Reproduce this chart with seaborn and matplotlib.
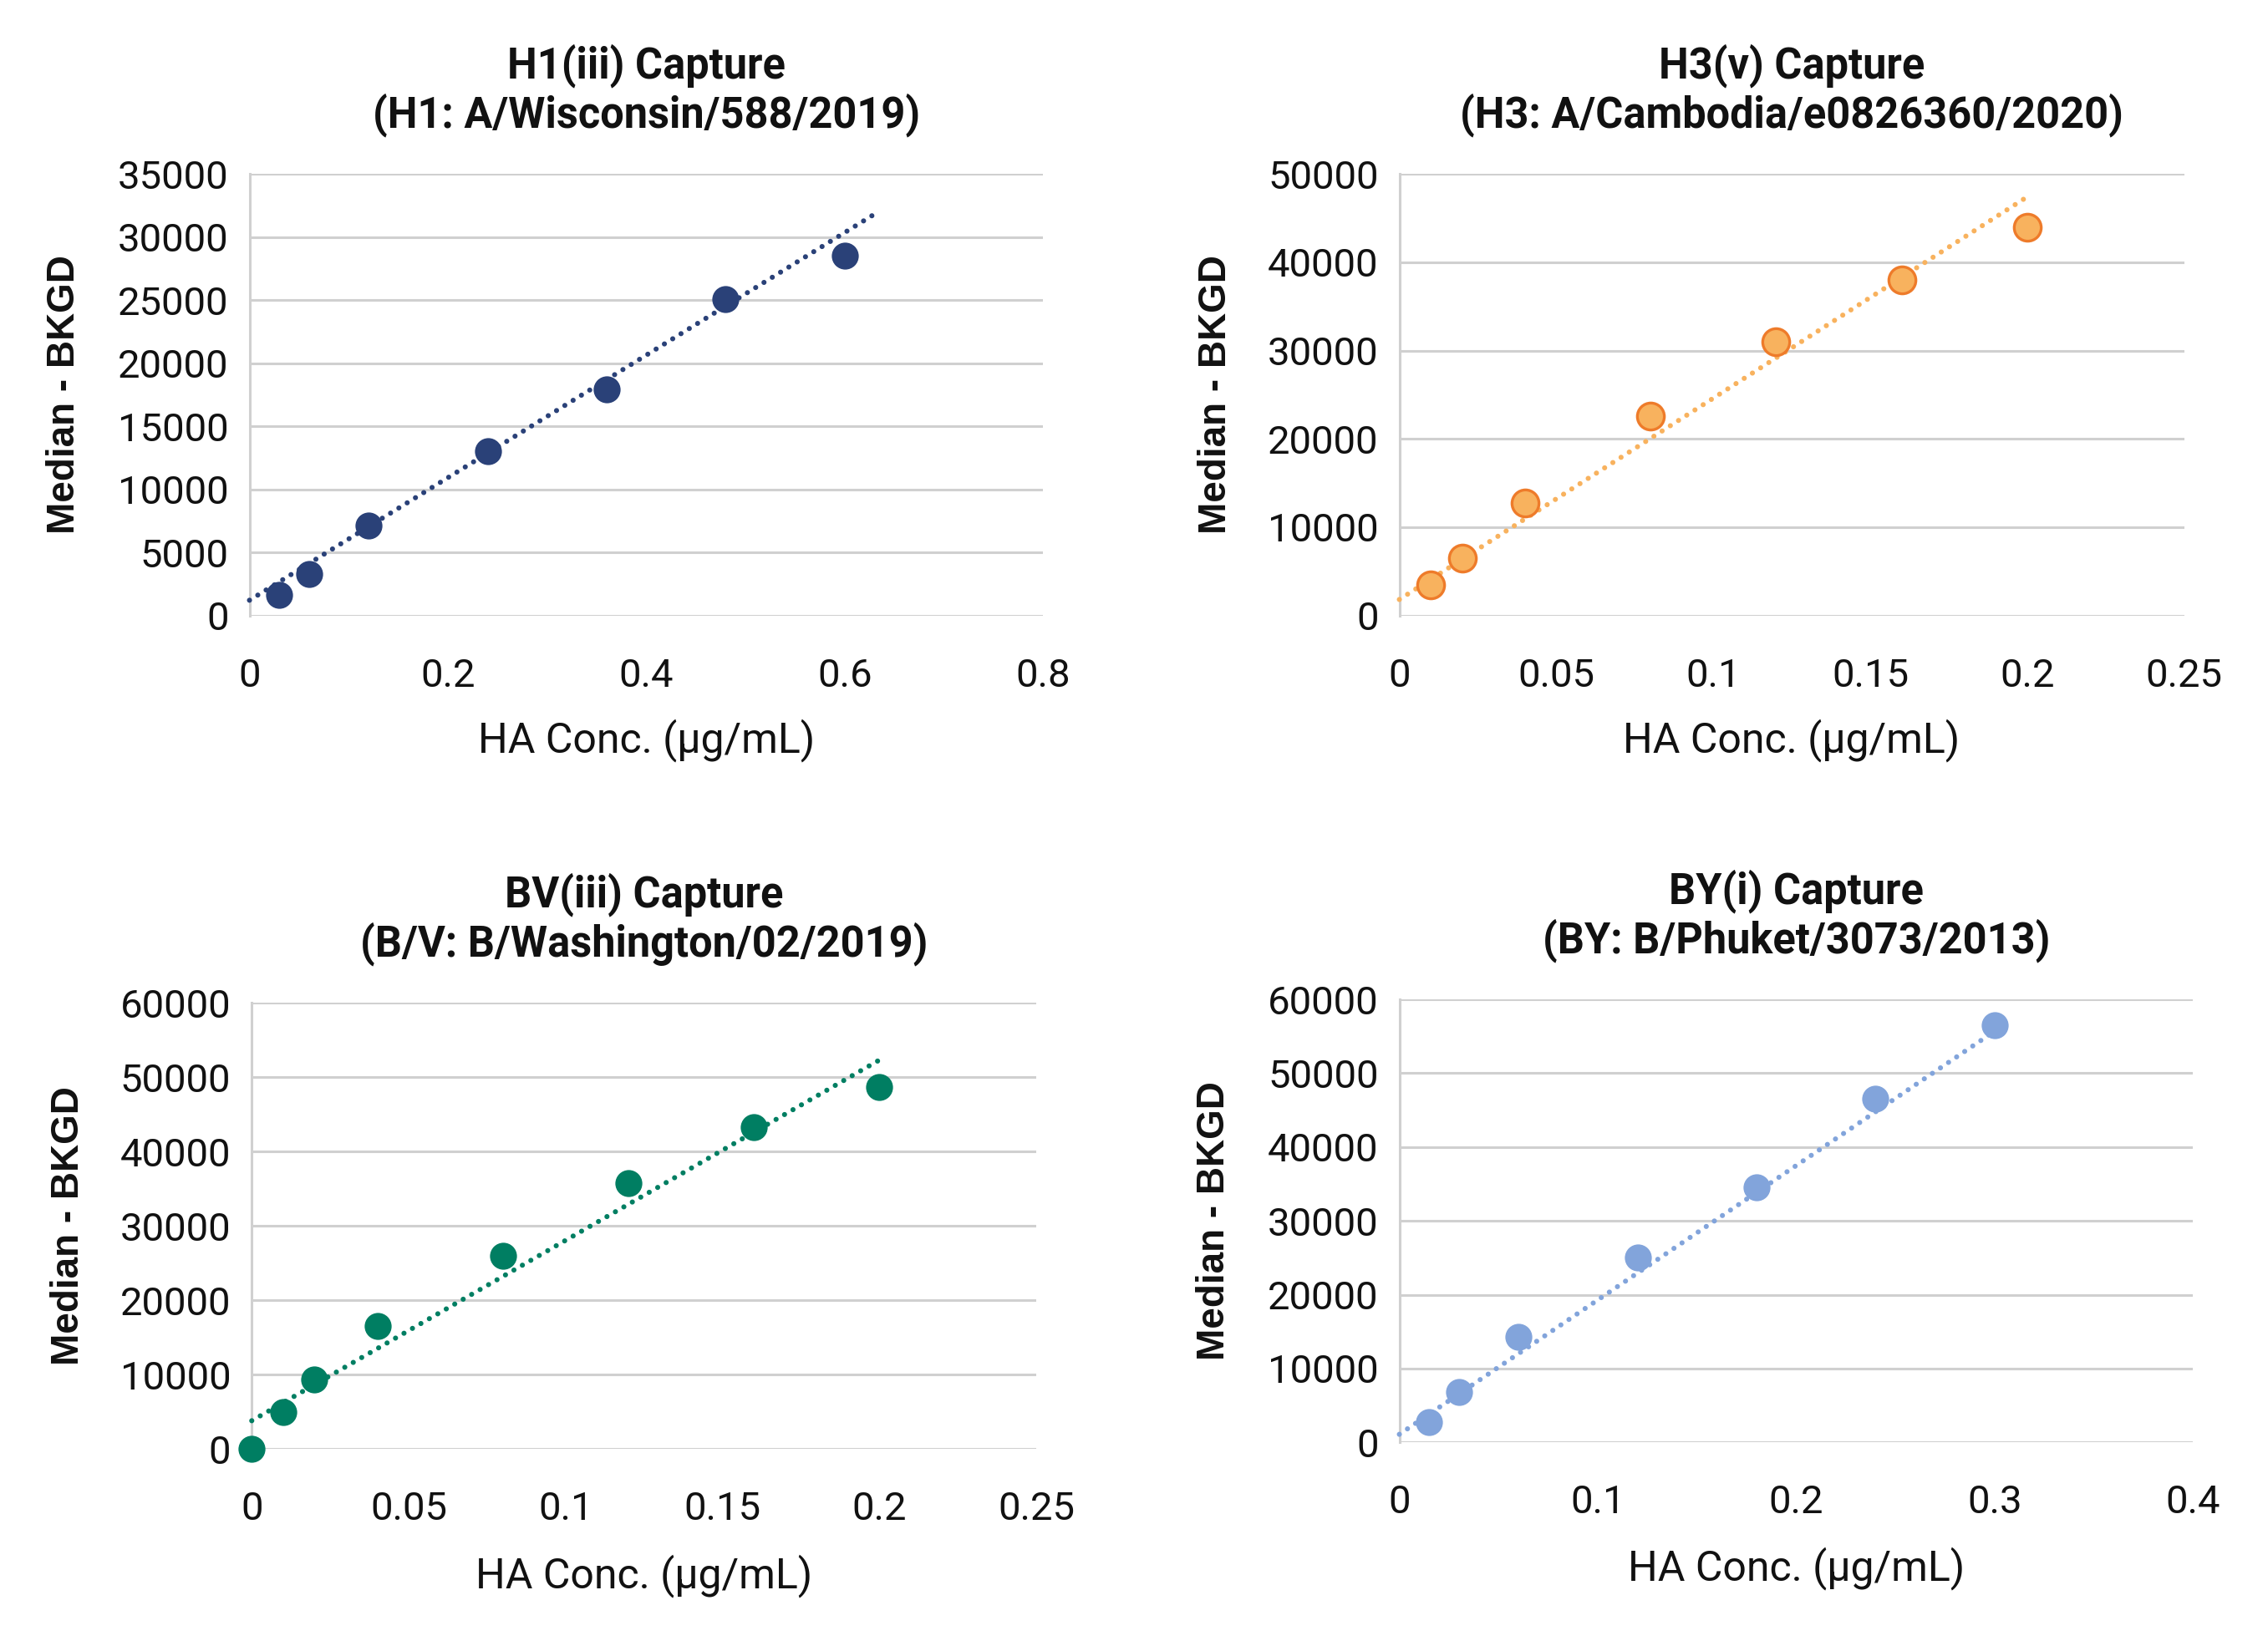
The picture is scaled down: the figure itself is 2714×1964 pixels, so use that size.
import numpy as np
import pandas as pd
import matplotlib
matplotlib.use("Agg")
import matplotlib.pyplot as plt
from matplotlib.ticker import FuncFormatter
import seaborn as sns

# ---- data ----
h1_conc = [0.03, 0.06, 0.12, 0.24, 0.36, 0.48, 0.60]
h1_signal = [1600, 3300, 7100, 13000, 17900, 25100, 28500]

h3_conc = [0.01, 0.02, 0.04, 0.08, 0.12, 0.16, 0.20]
h3_signal = [3500, 6500, 12700, 22600, 31000, 38000, 44000]

bv_conc = [0.0, 0.01, 0.02, 0.04, 0.08, 0.12, 0.16, 0.20]
bv_signal = [0, 5000, 9300, 16500, 26000, 35700, 43300, 48700]

by_conc = [0.015, 0.03, 0.06, 0.12, 0.18, 0.24, 0.30]
by_signal = [2800, 6800, 14300, 25100, 34600, 46500, 56500]

# linear trendlines as drawn in the reference (slope, intercept, end x)
trend_slope = [48600, 228000, 242500, 182000]
trend_intercept = [1200, 1800, 3800, 1100]
trend_end = [0.63, 0.2, 0.2, 0.3]

titles = [
    "H1(iii) Capture\n(H1: A/Wisconsin/588/2019)",
    "H3(v) Capture\n(H3: A/Cambodia/e0826360/2020)",
    "BV(iii) Capture\n(B/V: B/Washington/02/2019)",
    "BY(i) Capture\n(BY: B/Phuket/3073/2013)",
]
x_max = [0.8, 0.25, 0.25, 0.4]
x_step = [0.2, 0.05, 0.05, 0.1]
y_max = [35000, 50000, 60000, 60000]
y_step = [5000, 10000, 10000, 10000]

sns.set_theme(style="white")
plt.rcParams["font.family"] = ["Roboto", "DejaVu Sans"]

panels = [
    (h1_conc, h1_signal, "#2A4178", "#2A4178"),
    (h3_conc, h3_signal, "#F8B25E", "#EE7B2A"),
    (bv_conc, bv_signal, "#007E62", "#007E62"),
    (by_conc, by_signal, "#82A4DB", "#82A4DB"),
]

# axes boxes [left, bottom, width, height] in figure fraction
boxes = [
    [0.110, 0.625, 0.350, 0.269],
    [0.617, 0.625, 0.346, 0.269],
    [0.111, 0.117, 0.346, 0.272],
    [0.617, 0.121, 0.350, 0.270],
]

fig = plt.figure(figsize=(13.57, 9.82), dpi=200)

fmt = FuncFormatter(lambda v, p: f"{v:g}")

for i, (xs, ys, fill, edge) in enumerate(panels):
    ax = fig.add_axes(boxes[i])
    df = pd.DataFrame({"conc": xs, "signal": ys})

    # dotted trendline, Excel style
    tx = np.array([0.0, trend_end[i]])
    trend = pd.DataFrame({"conc": tx,
                          "signal": trend_slope[i] * tx + trend_intercept[i]})
    sns.lineplot(data=trend, x="conc", y="signal", ax=ax, color=fill,
                 linewidth=2.2, zorder=3)
    ax.lines[-1].set_linestyle((0, (0.01, 1.9)))
    ax.lines[-1].set_dash_capstyle("round")
    ax.lines[-1].set_clip_on(False)

    sns.scatterplot(data=df, x="conc", y="signal", ax=ax, s=135,
                    color=fill, edgecolor=edge,
                    linewidth=1.2 if fill != edge else 0, zorder=4)

    ax.set_xlim(0, x_max[i])
    ax.set_ylim(0, y_max[i])
    ax.set_xticks(np.arange(0, x_max[i] + x_step[i] / 2, x_step[i]))
    ax.set_yticks(np.arange(0, y_max[i] + 1, y_step[i]))
    ax.xaxis.set_major_formatter(fmt)
    ax.yaxis.set_major_formatter(fmt)
    ax.tick_params(axis="both", labelsize=17, length=0, colors="#111111")
    ax.tick_params(axis="x", pad=18)
    ax.tick_params(axis="y", pad=9)

    ax.grid(axis="y", color="#D0D0D0", linewidth=1.1)
    ax.set_axisbelow(True)
    for side in ["top", "right", "bottom"]:
        ax.spines[side].set_visible(False)
    ax.spines["left"].set_color("#D0D0D0")
    ax.spines["left"].set_linewidth(1.1)
    for coll in ax.collections:
        coll.set_clip_on(False)

    ax.set_title(titles[i], fontsize=18.2, fontweight="bold", pad=20,
                 linespacing=1.15, color="#111111")
    ax.set_xlabel("HA Conc. (µg/mL)", fontsize=18, color="#111111")
    ax.xaxis.set_label_coords(0.5, -0.235)
    ax.set_ylabel("Median - BKGD", fontsize=16.5, fontweight="bold",
                  family=["Liberation Sans", "DejaVu Sans"], color="#111111")
    ax.yaxis.set_label_coords(-0.21, 0.5)

fig.savefig("out.png", dpi=200, facecolor="white")
